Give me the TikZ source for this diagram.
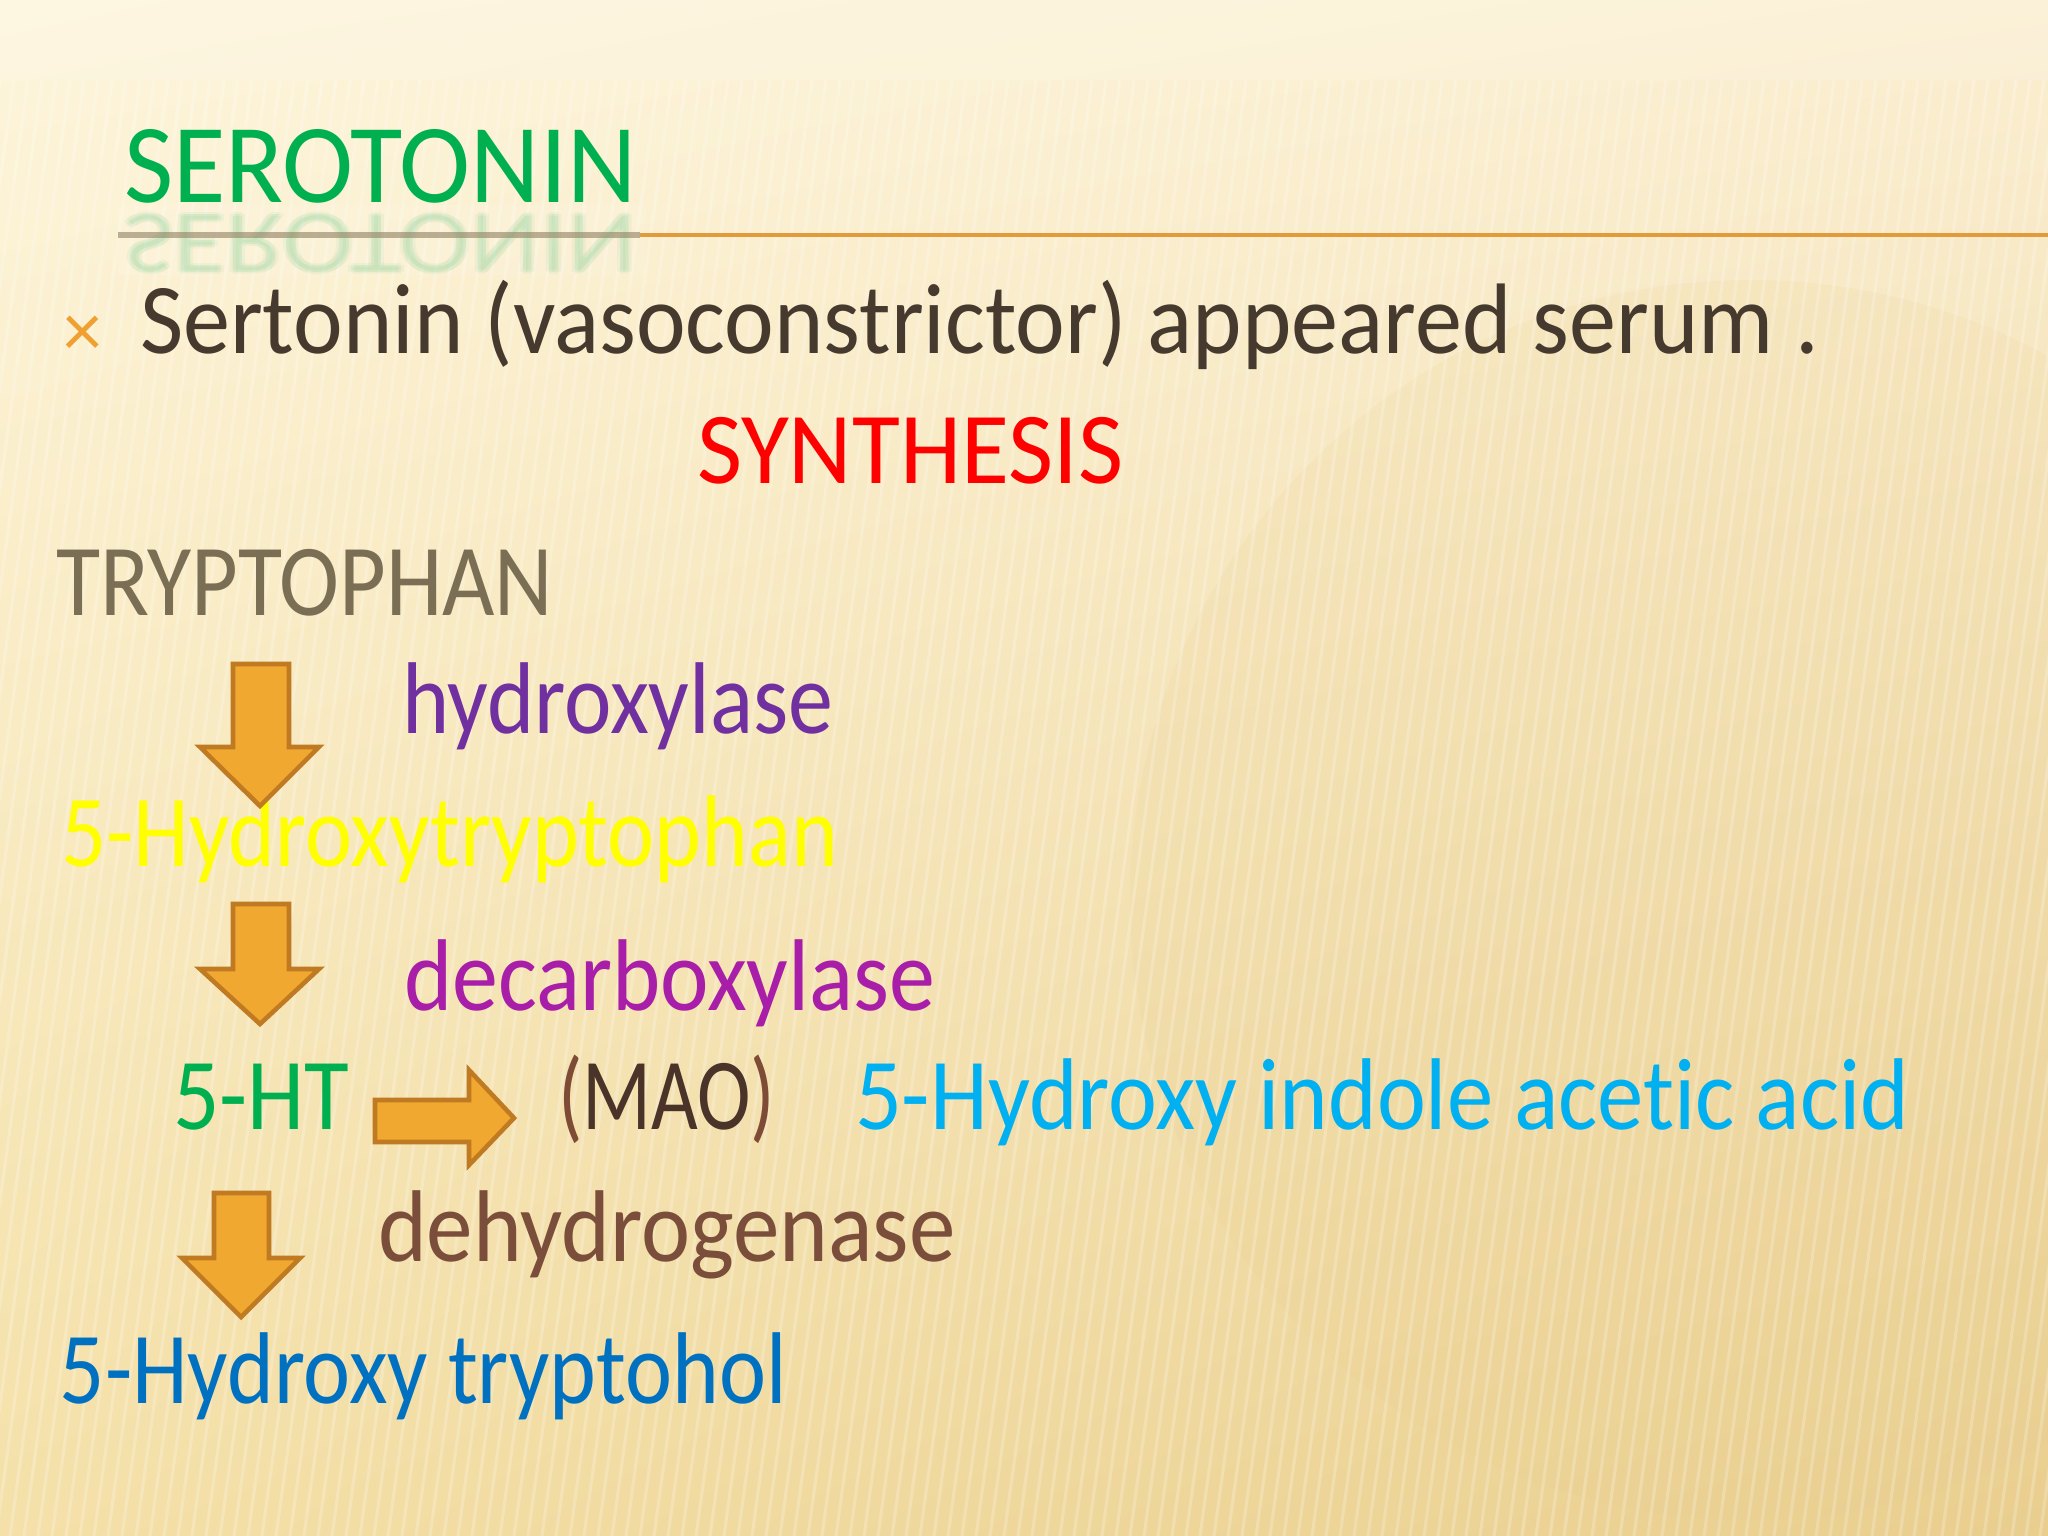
\documentclass[tikz,border=0pt]{standalone}
\usepackage{fontspec}
\setmainfont{Carlito}[Ligatures={NoCommon}]
\usepackage{graphicx}
\usetikzlibrary{shadings}
\definecolor{bgTL}{HTML}{FDF5DC}
\definecolor{bgTR}{HTML}{FBEFD2}
\definecolor{bgBL}{HTML}{F4E0A8}
\definecolor{bgBR}{HTML}{E9CE8E}
\definecolor{titlegreen}{HTML}{00B050}
\definecolor{bodybrown}{HTML}{463A2E}
\definecolor{bulletorange}{HTML}{F0A030}
\definecolor{rulecol}{HTML}{E39A3A}
\definecolor{rulegray}{HTML}{8F8060}
\definecolor{synred}{HTML}{FF0000}
\definecolor{trpcol}{HTML}{7A6E55}
\definecolor{hydcol}{HTML}{7030A0}
\definecolor{htpcol}{HTML}{FFFF00}
\definecolor{deccol}{HTML}{A81EA8}
\definecolor{maodark}{HTML}{4A3328}
\definecolor{maoparen}{HTML}{7E4C36}
\definecolor{hiaacol}{HTML}{00B0F0}
\definecolor{dehcol}{HTML}{7A4E3A}
\definecolor{htolcol}{HTML}{0070C0}
\definecolor{arrowfill}{HTML}{F0A830}
\definecolor{arrowdraw}{HTML}{C07A22}
\newcommand\fitto[2]{\resizebox{#1cm}{\height}{#2}}
\begin{document}
\begin{tikzpicture}[x=0.01cm,y=-0.01cm,
  txt/.style={anchor=base west,inner sep=0pt,outer sep=0pt},
  body/.style={txt,font=\fontsize{29}{34}\selectfont},
  refl/.style={txt,font=\fontsize{32}{38}\selectfont,text=titlegreen,opacity=0.05},
  blockarrow/.style={fill=arrowfill,draw=arrowdraw,line width=1.3pt,line join=miter}]
\useasboundingbox (0,0) rectangle (2048,1536);
% background
\shade[upper left=bgTL,upper right=bgTR,lower left=bgBL,lower right=bgBR] (0,0) rectangle (2048,1536);
\fill[white,opacity=0.15] (0,0) rectangle (2048,80);
\fill[bgBR,opacity=0.14] (1750,900) circle (620);
\foreach \x in {0,14,...,2300} {
  \draw[white,opacity=0.22,line width=0.9pt] (\x,80) -- (\x-200,1536);
}
% title
\node[txt,font=\fontsize{32}{38}\selectfont,text=titlegreen] (title) at (124,202) {\fitto{5.12}{SEROTONIN}};
\fill[white,opacity=0.12] (118,205) rectangle (645,275);
\foreach \dx/\dy in {0/0,3/2,-3/2,0/4} {
  \node[refl] at (124+\dx,212+\dy) {\scalebox{1}[-0.8]{\fitto{5.12}{SEROTONIN}}};
}
\coordinate (ruleM) at (640,235);
\coordinate (ruleL) at (118,235);
\coordinate (ruleR) at (2048,235);
\draw[rulegray,opacity=0.6,line width=1.5pt] (ruleL) -- (ruleM);
\draw[rulecol,line width=1.3pt] (ruleM) -- (ruleR);
% bullet line
\node[txt,font=\fontsize{22}{26}\selectfont,text=bulletorange] (bullet) at (64,356) {×};
\node[txt,font=\fontsize{28.5}{34}\selectfont,text=bodybrown] (sent) at (140,353) {\fitto{16.78}{Sertonin (vasoconstrictor) appeared serum .}};
\node[body,text=synred] (syn) at (697,483) {\fitto{4.26}{SYNTHESIS}};
% pathway
\node[body,text=trpcol] (trp) at (56,615) {\fitto{4.97}{TRYPTOPHAN}};
\node[body,text=hydcol] (hyd) at (402,733) {\fitto{4.31}{hydroxylase}};
\node[body,text=htpcol] (htp) at (61,866) {\fitto{7.77}{5-Hydroxytryptophan}};
\node[body,text=deccol] (dec) at (404,1010) {\fitto{5.31}{decarboxylase}};
\node[body,text=titlegreen] (ht) at (173,1129) {\fitto{1.76}{5-HT}};
\node[body] (mao) at (558,1129) {\fitto{2.17}{\textcolor{maoparen}{(}\textcolor{maodark}{MAO}\textcolor{maoparen}{)}}};
\node[body,text=hiaacol] (hiaa) at (855,1129) {\fitto{10.54}{5-Hydroxy indole acetic acid}};
\node[body,text=dehcol] (deh) at (378,1261) {\fitto{5.77}{dehydrogenase}};
\node[body,text=htolcol] (htol) at (60,1403) {\fitto{7.26}{5-Hydroxy tryptohol}};
% block arrows
\draw[blockarrow] (233,664) -- (289,664) -- (289,747) -- (319,747) -- (260,806) -- (200,747) -- (233,747) -- cycle;
\draw[blockarrow] (233,904) -- (289,904) -- (289,969) -- (319,969) -- (260,1024) -- (200,969) -- (233,969) -- cycle;
\draw[blockarrow] (214,1193) -- (269,1193) -- (269,1258) -- (300,1258) -- (241,1317) -- (182,1258) -- (214,1258) -- cycle;
\draw[blockarrow] (375,1100) -- (469,1100) -- (469,1070) -- (514,1118) -- (469,1165) -- (469,1142) -- (375,1142) -- cycle;
\end{tikzpicture}
\end{document}
